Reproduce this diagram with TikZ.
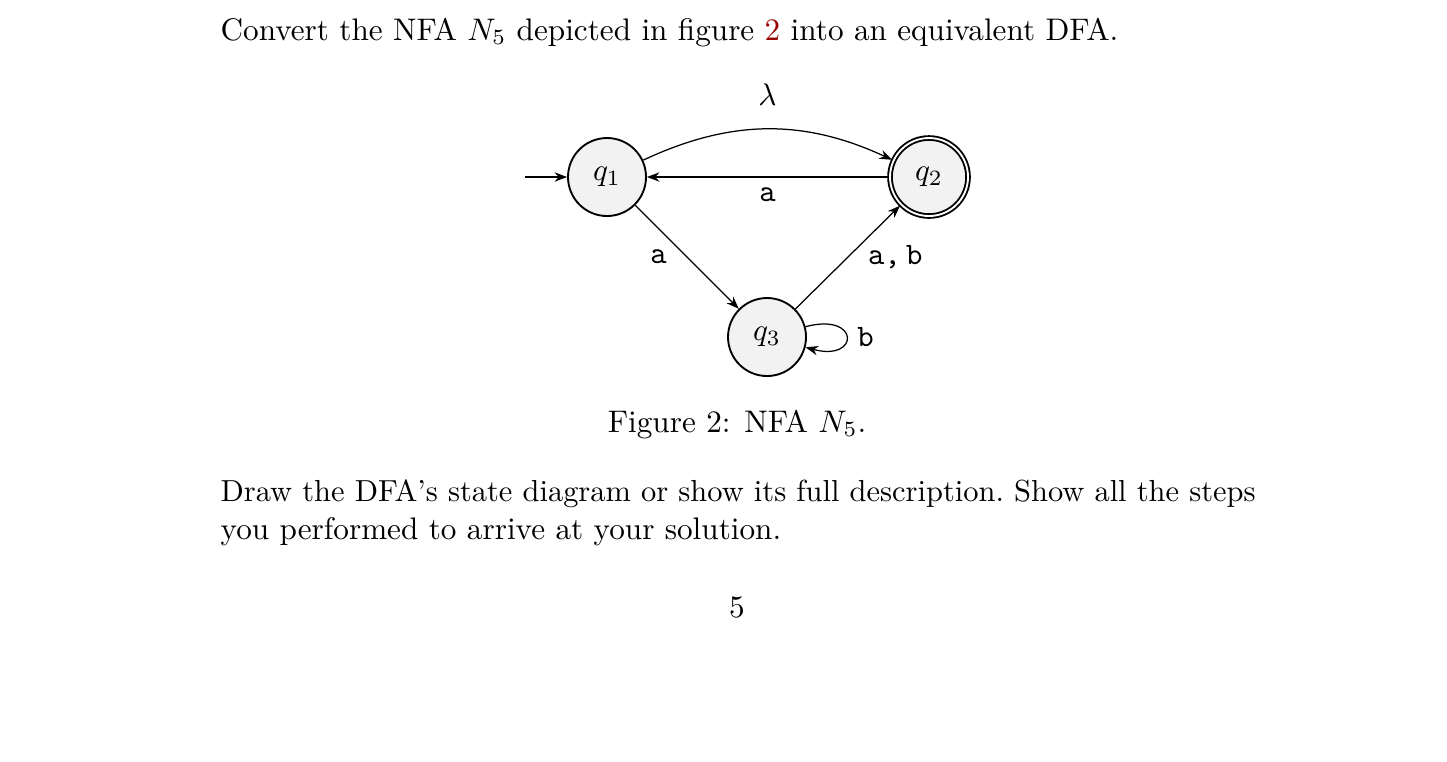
\documentclass[tikz,border=0pt]{standalone}
\usetikzlibrary{automata,arrows.meta}
\definecolor{linkred}{rgb}{0.6,0,0}
\begin{document}
\begin{tikzpicture}[x=0.3205pt,y=-0.3205pt,
  st/.style={state,draw,semithick,fill=gray!10,minimum size=25pt,inner sep=0pt},
  tr/.style={-{Stealth[length=4pt]},thin},
  lbl/.style={font=\ttfamily}]
\useasboundingbox (0,0) rectangle (1447,761);
\node[anchor=base west,inner sep=0] (t1) at (220,40) {Convert the NFA $N_5$ depicted in figure \textcolor{linkred}{2} into an equivalent DFA.};
\node[st] (q1) at (607,177) {$q_1$};
\node[st,accepting] (q2) at (929,177) {$q_2$};
\node[st] (q3) at (767,337) {$q_3$};
\coordinate (s) at (525,177);
\draw[tr] (s) -- (q1);
\draw[tr] (q1) to[bend left=25] node[above=4pt] (l1) {$\lambda$} (q2);
\draw[tr] (q2) -- node[below=0pt,lbl] (l2) {a} (q1);
\draw[tr] (q1) -- node[left=3pt,lbl] (l3) {a} (q3);
\draw[tr] (q3) -- node[right=3pt,lbl] (l4) {a,\,b} (q2);
\draw[tr] (q3) to[loop right,looseness=7] node[right,lbl] (l5) {b} (q3);
\node[anchor=base,inner sep=0] (cap) at (737,432) {Figure 2: NFA $N_5$.};
\node[anchor=base west,inner sep=0] (p1) at (220,501) {\resizebox{331.7pt}{!}{Draw the DFA's state diagram or show its full description.\ Show all the steps}};
\node[anchor=base west,inner sep=0] (p2) at (220,539) {you performed to arrive at your solution.};
\node[anchor=base,inner sep=0] (pg) at (737,617) {5};
\end{tikzpicture}
\end{document}
